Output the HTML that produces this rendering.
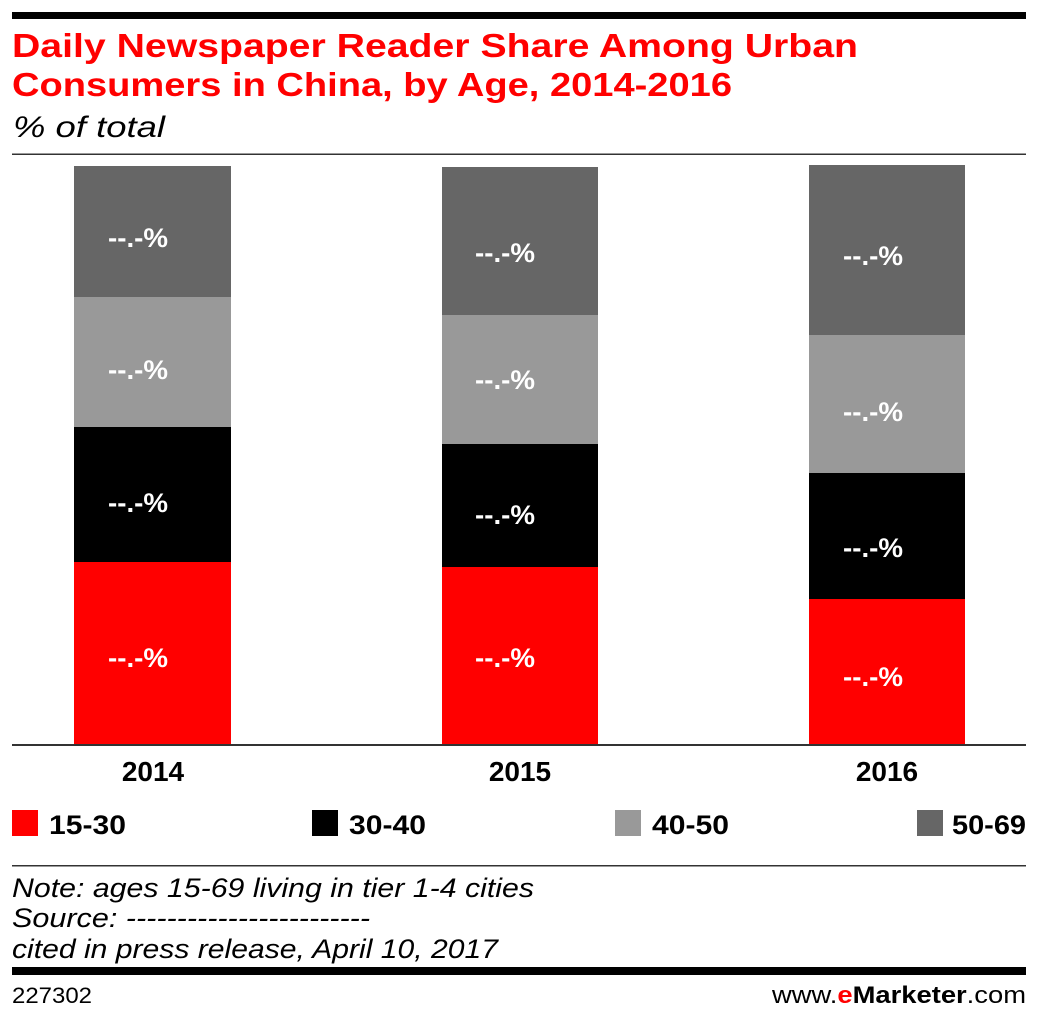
<!DOCTYPE html>
<html><head><meta charset="utf-8"><style>
html,body{margin:0;padding:0;background:#fff}
svg{display:block}
text{font-family:"Liberation Sans",sans-serif}
</style></head><body>
<svg width="1038" height="1021" viewBox="0 0 1038 1021" xmlns="http://www.w3.org/2000/svg">
<rect x="12" y="12" width="1014" height="7" fill="#000"/>
<text x="12" y="57" font-size="33" font-weight="bold" fill="#f00" textLength="846" lengthAdjust="spacingAndGlyphs">Daily Newspaper Reader Share Among Urban</text>
<text x="12" y="96" font-size="33" font-weight="bold" fill="#f00" textLength="720" lengthAdjust="spacingAndGlyphs">Consumers in China, by Age, 2014-2016</text>
<text x="13" y="137" font-size="30" font-style="italic" fill="#000" textLength="152" lengthAdjust="spacingAndGlyphs">% of total</text>
<rect x="12" y="153.5" width="1014" height="1.5" fill="#333"/>

<rect x="74" y="166" width="157" height="131" fill="#666"/>
<rect x="74" y="297" width="157" height="130" fill="#999"/>
<rect x="74" y="427" width="157" height="135" fill="#000"/>
<rect x="74" y="562" width="157" height="183" fill="#f00"/>
<rect x="442" y="167" width="156" height="148" fill="#666"/>
<rect x="442" y="315" width="156" height="129" fill="#999"/>
<rect x="442" y="444" width="156" height="123" fill="#000"/>
<rect x="442" y="567" width="156" height="178" fill="#f00"/>
<rect x="809" y="165" width="156" height="170" fill="#666"/>
<rect x="809" y="335" width="156" height="138" fill="#999"/>
<rect x="809" y="473" width="156" height="126" fill="#000"/>
<rect x="809" y="599" width="156" height="146" fill="#f00"/>

<g font-size="27" font-weight="bold" fill="#fff">
<text x="108" y="247" textLength="60" lengthAdjust="spacingAndGlyphs">--.-%</text>
<text x="108" y="379" textLength="60" lengthAdjust="spacingAndGlyphs">--.-%</text>
<text x="108" y="512" textLength="60" lengthAdjust="spacingAndGlyphs">--.-%</text>
<text x="108" y="667" textLength="60" lengthAdjust="spacingAndGlyphs">--.-%</text>
<text x="475" y="262" textLength="60" lengthAdjust="spacingAndGlyphs">--.-%</text>
<text x="475" y="389" textLength="60" lengthAdjust="spacingAndGlyphs">--.-%</text>
<text x="475" y="524" textLength="60" lengthAdjust="spacingAndGlyphs">--.-%</text>
<text x="475" y="667" textLength="60" lengthAdjust="spacingAndGlyphs">--.-%</text>
<text x="843" y="265" textLength="60" lengthAdjust="spacingAndGlyphs">--.-%</text>
<text x="843" y="421" textLength="60" lengthAdjust="spacingAndGlyphs">--.-%</text>
<text x="843" y="557" textLength="60" lengthAdjust="spacingAndGlyphs">--.-%</text>
<text x="843" y="686" textLength="60" lengthAdjust="spacingAndGlyphs">--.-%</text>
</g>
<rect x="12" y="744" width="1014" height="2" fill="#333"/>

<g font-size="28" font-weight="bold" fill="#000" text-anchor="middle">
<text x="153" y="781">2014</text>
<text x="520" y="781">2015</text>
<text x="887" y="781">2016</text>
</g>

<rect x="12" y="810" width="26" height="26" fill="#f00"/>
<rect x="312" y="810" width="26" height="26" fill="#000"/>
<rect x="615" y="810" width="26" height="26" fill="#999"/>
<rect x="917" y="810" width="26" height="26" fill="#666"/>
<g font-size="27" font-weight="bold" fill="#000">
<text x="49" y="834" textLength="77" lengthAdjust="spacingAndGlyphs">15-30</text>
<text x="349" y="834" textLength="77" lengthAdjust="spacingAndGlyphs">30-40</text>
<text x="652" y="834" textLength="77" lengthAdjust="spacingAndGlyphs">40-50</text>
<text x="952" y="834" textLength="74" lengthAdjust="spacingAndGlyphs">50-69</text>
</g>
<rect x="12" y="865" width="1014" height="1.5" fill="#333"/>

<g font-size="27" font-style="italic" fill="#000">
<text x="12" y="897" textLength="522" lengthAdjust="spacingAndGlyphs">Note: ages 15-69 living in tier 1-4 cities</text>
<text x="12" y="927" textLength="358" lengthAdjust="spacingAndGlyphs">Source: ------------------------</text>
<text x="12" y="958" textLength="486" lengthAdjust="spacingAndGlyphs">cited in press release, April 10, 2017</text>
</g>
<rect x="12" y="967" width="1014" height="8" fill="#000"/>
<text x="12" y="1003" font-size="22" fill="#000" textLength="80" lengthAdjust="spacingAndGlyphs">227302</text>
<text x="772" y="1003" font-size="24" fill="#000" textLength="254" lengthAdjust="spacingAndGlyphs">www.<tspan fill="#f00" font-weight="bold">e</tspan><tspan font-weight="bold">Marketer</tspan>.com</text>
</svg>
</body></html>
